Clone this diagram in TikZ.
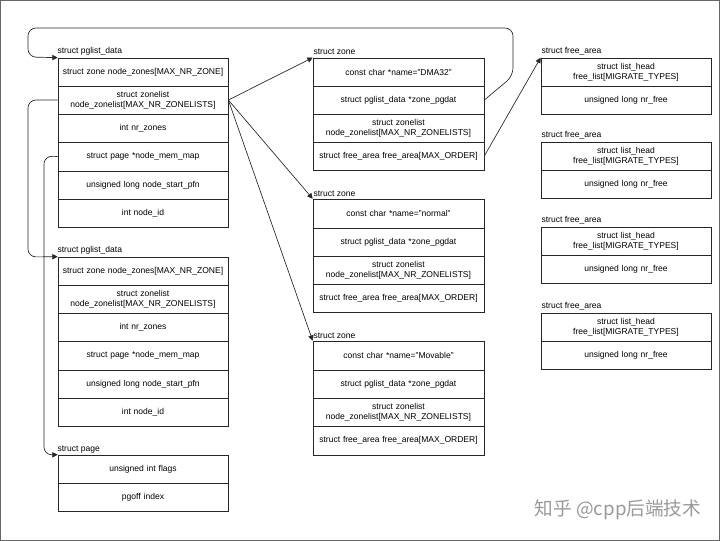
\documentclass[tikz,border=0pt]{standalone}
\usepackage{fontspec}
\setmainfont{Liberation Sans}
\newfontfamily\cjk{Noto Sans CJK SC}
\usetikzlibrary{arrows.meta}
\begin{document}
\begin{tikzpicture}[x=0.75pt,y=-0.75pt,
  cell/.style={draw=black!85,line width=0.5pt,fill=white,font=\fontsize{6.4}{7.6}\selectfont,align=center,inner sep=0pt},
  ttl/.style={anchor=south west,font=\fontsize{6.4}{7.6}\selectfont,inner sep=1pt},
  conn/.style={draw=black!85,line width=0.5pt,-{Triangle[length=4pt,width=4pt]}}]
\useasboundingbox (0,0) rectangle (720,541);
\draw[black!60] (0.5,0.5) rectangle (719.5,540.5);
\newcommand{\cellbox}[6]{% name,x1,y1,x2,y2,text
  \node[cell,minimum width={((#4)-(#2))*0.75pt},minimum height={((#5)-(#3))*0.75pt},text width={((#4)-(#2))*0.75pt}] (#1) at ({((#2)+(#4))/2},{((#3)+(#5))/2}) {#6};}
% pglist 1
\node[ttl] (t1) at (56,56.5) {struct pglist\_data};
\cellbox{a1}{58}{58}{228}{86}{struct zone node\_zones[MAX\_NR\_ZONE]}
\cellbox{a2}{58}{86}{228}{114}{struct zonelist\\node\_zonelist[MAX\_NR\_ZONELISTS]}
\cellbox{a3}{58}{114}{228}{142}{int nr\_zones}
\cellbox{a4}{58}{142}{228}{171}{struct page *node\_mem\_map}
\cellbox{a5}{58}{171}{228}{199}{unsigned long node\_start\_pfn}
\cellbox{a6}{58}{199}{228}{227}{int node\_id}
% pglist 2
\node[ttl] (t2) at (56,255.5) {struct pglist\_data};
\cellbox{b1}{58}{257}{228}{285}{struct zone node\_zones[MAX\_NR\_ZONE]}
\cellbox{b2}{58}{285}{228}{313}{struct zonelist\\node\_zonelist[MAX\_NR\_ZONELISTS]}
\cellbox{b3}{58}{313}{228}{341}{int nr\_zones}
\cellbox{b4}{58}{341}{228}{370}{struct page *node\_mem\_map}
\cellbox{b5}{58}{370}{228}{398}{unsigned long node\_start\_pfn}
\cellbox{b6}{58}{398}{228}{426}{int node\_id}
% page
\node[ttl] (t3) at (56,454.5) {struct page};
\cellbox{p1}{58}{455}{228}{483}{unsigned int flags}
\cellbox{p2}{58}{483}{228}{511}{pgoff index}
% zones
\node[ttl] (tz1) at (312,56.5) {struct zone};
\cellbox{z11}{313}{58}{484}{86}{const char *name="DMA32"}
\cellbox{z12}{313}{86}{484}{114}{struct pglist\_data *zone\_pgdat}
\cellbox{z13}{313}{114}{484}{142}{struct zonelist\\node\_zonelist[MAX\_NR\_ZONELISTS]}
\cellbox{z14}{313}{142}{484}{170}{struct free\_area free\_area[MAX\_ORDER]}
\node[ttl] (tz2) at (312,198.5) {struct zone};
\cellbox{z21}{313}{199}{484}{228}{const char *name="normal"}
\cellbox{z22}{313}{228}{484}{256}{struct pglist\_data *zone\_pgdat}
\cellbox{z23}{313}{256}{484}{284}{struct zonelist\\node\_zonelist[MAX\_NR\_ZONELISTS]}
\cellbox{z24}{313}{284}{484}{312}{struct free\_area free\_area[MAX\_ORDER]}
\node[ttl] (tz3) at (312,340.5) {struct zone};
\cellbox{z31}{313}{341}{484}{370}{const char *name="Movable"}
\cellbox{z32}{313}{370}{484}{398}{struct pglist\_data *zone\_pgdat}
\cellbox{z33}{313}{398}{484}{426}{struct zonelist\\node\_zonelist[MAX\_NR\_ZONELISTS]}
\cellbox{z34}{313}{426}{484}{455}{struct free\_area free\_area[MAX\_ORDER]}
% free areas
\foreach \i/\t in {1/58,2/142,3/227,4/313}{
  \node[ttl] (tf\i) at (540,\t-1.5) {struct free\_area};
  \cellbox{f\i a}{541}{\t}{711}{\t+28}{struct list\_head\\free\_list[MIGRATE\_TYPES]}
  \cellbox{f\i b}{541}{\t+28}{711}{\t+56}{unsigned long nr\_free}
}
% connectors
\coordinate (c1) at (513,76);
\draw[conn,rounded corners=6pt] (z12.east) -- (c1) -- (513,28) -- (28,28) -- (28,57) -- (a1.north west);
\draw[conn,rounded corners=6pt] (a2.west) -- (28,100) -- (28,257) -- (b1.north west);
\draw[conn,rounded corners=6pt] (a4.west) -- (44,156) -- (44,455) -- (p1.north west);
\draw[conn] (a2.east) -- (z11.north west);
\draw[conn] (a2.east) -- (z21.north west);
\draw[conn] (a2.east) -- (z31.north west);
\draw[conn] (z14.east) -- (f1a.north west);
\node[font=\cjk\fontsize{14}{16}\selectfont,text=black!40,anchor=east] (wm) at (706,510) {知乎 @cpp后端技术};
\end{tikzpicture}
\end{document}
